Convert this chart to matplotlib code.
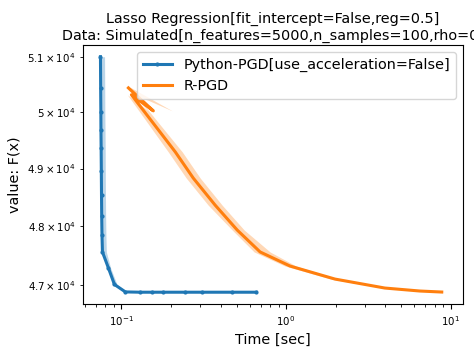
import matplotlib
matplotlib.use("Agg")
import matplotlib.pyplot as plt

# ─── Data ────────────────────────────────────────────────────────────────
TITLE = ("Lasso Regression[fit_intercept=False,reg=0.5]\n"
         "Data: Simulated[n_features=5000,n_samples=100,rho=0]")
LABEL_PY = "Python-PGD[use_acceleration=False]"
LABEL_R = "R-PGD"

py_obj = [51000, 50435, 50004, 49682, 49362, 48960, 48540, 48176, 47850,
          47560, 47287, 47010, 46885, 46880, 46880, 46880, 46880, 46880,
          46880, 46880]
py_time = [0.0746, 0.0748, 0.0750, 0.0751, 0.0753, 0.0755, 0.0757, 0.0759,
           0.0762, 0.0767, 0.0834, 0.0907, 0.1057, 0.130, 0.154, 0.180,
           0.244, 0.310, 0.471, 0.658]
py_time_lo = [0.0744, 0.0745, 0.0747, 0.0748, 0.0750, 0.0752, 0.0754, 0.0756,
              0.0758, 0.0762, 0.0820, 0.0890, 0.1040, 0.128, 0.152, 0.178,
              0.241, 0.305, 0.465, 0.650]
py_time_hi = [0.0790, 0.0792, 0.0793, 0.0795, 0.0797, 0.0798, 0.0800, 0.0802,
              0.0805, 0.0810, 0.0860, 0.0940, 0.1080, 0.132, 0.156, 0.183,
              0.248, 0.315, 0.478, 0.668]

r_obj = [50435, 50022, 50311, 49292, 48833, 48362, 47935, 47560, 47321,
         47101, 46950, 46900, 46883]
r_time = [0.1103, 0.1563, 0.1150, 0.2125, 0.2732, 0.3713, 0.5047, 0.6957,
          1.057, 1.982, 3.981, 6.49, 8.82]
r_time_lo = [0.1072, 0.1458, 0.1087, 0.1927, 0.2477, 0.3369, 0.4708, 0.6399,
             0.986, 1.874, 3.871, 6.31, 8.577]
r_time_hi = [0.1150, 0.2038, 0.1220, 0.2343, 0.3012, 0.4094, 0.5566, 0.7998,
             1.150, 2.066, 4.152, 6.767, 9.326]


def main():
    fig = plt.figure(figsize=(4.74, 3.55), dpi=100)
    ax = fig.add_axes([0.1751, 0.1437, 0.8017, 0.7296])

    ax.fill_betweenx(py_obj, py_time_lo, py_time_hi, color="C0", alpha=.3,
                     linewidth=0)
    ax.plot(py_time, py_obj, color="C0", lw=2.2, marker="o", markersize=2,
            label=LABEL_PY)
    ax.fill_betweenx(r_obj, r_time_lo, r_time_hi, color="C1", alpha=.3,
                     linewidth=0)
    ax.plot(r_time, r_obj, color="C1", lw=2.2, label=LABEL_R)

    ax.set_xscale("log")
    ax.set_yscale("log")
    ax.tick_params(labelsize=7.4, which="both")
    ax.set_xlabel("Time [sec]", fontsize=10.4)
    ax.set_ylabel("value: F(x)", fontsize=10.4)
    ax.set_title(TITLE, fontsize=10.4, pad=4)
    ax.legend(loc="upper right", fontsize=10.4)

    fig.savefig("out.png", dpi=100)


if __name__ == "__main__":
    main()
